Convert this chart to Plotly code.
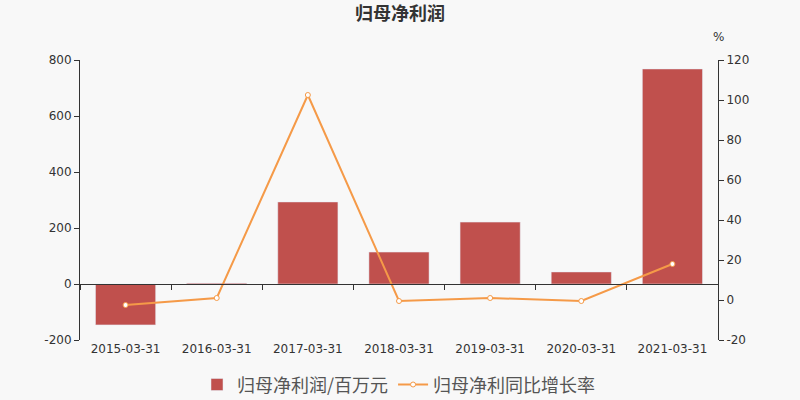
import plotly.graph_objects as go

categories = ["2015-03-31", "2016-03-31", "2017-03-31", "2018-03-31", "2019-03-31", "2020-03-31", "2021-03-31"]
profit = [-146, 3, 293, 114, 221, 43, 768]
growth = [-2.5, 1.0, 102.5, -0.5, 1.0, -0.5, 18.0]
left_ticks = [-200, 0, 200, 400, 600, 800]
left_labels = ["-200", "0", "200", "400", "600", "800"]
right_ticks = [-20, 0, 20, 40, 60, 80, 100, 120]
right_labels = ["-20", "0", "20", "40", "60", "80", "100", "120"]

BAR = "#c0504d"
LINE = "#f59a48"
FONT = "DejaVu Sans, Noto Sans CJK SC"
CJK = "Noto Sans CJK SC"

fig = go.Figure()
fig.add_trace(go.Bar(x=categories, y=profit, name="归母净利润/百万元", marker_color=BAR,
                     width=0.66, yaxis="y", xaxis="x"))
fig.add_trace(go.Scatter(x=categories, y=growth, name="归母净利同比增长率", mode="lines+markers",
                         line=dict(color=LINE, width=2),
                         marker=dict(size=5, color="white", line=dict(color=LINE, width=1)),
                         yaxis="y2", xaxis="x"))
# invisible trace to drive the zero-line axis
fig.add_trace(go.Scatter(x=categories, y=[None]*len(categories), xaxis="x2", yaxis="y",
                         showlegend=False, hoverinfo="skip"))

fig.update_layout(
    width=800, height=400,
    paper_bgcolor="#f8f8f8", plot_bgcolor="#f8f8f8",
    margin=dict(l=80, r=82, t=60, b=60, autoexpand=False),
    font=dict(family=FONT, size=12, color="#333"),
    title=dict(text="<b>归母净利润</b>", x=0.5, xanchor="center", y=0.965, yanchor="middle",
               font=dict(size=18, color="#333", family=CJK)),
    showlegend=True,
    legend=dict(orientation="h", x=0.5, xanchor="center", y=-0.16, yanchor="middle",
                font=dict(size=18, color="#555", family=CJK), bgcolor="rgba(0,0,0,0)"),
    bargap=0.35,
    xaxis=dict(type="category", showline=False, ticks="", showgrid=False, zeroline=False,
               tickfont=dict(size=12, color="#333")),
    xaxis2=dict(type="category", overlaying="x", anchor="free", position=0.2, side="bottom",
                showline=True, linecolor="#333", linewidth=1, ticks="outside", tickson="boundaries",
                ticklen=5, tickcolor="#333", showticklabels=False, showgrid=False, zeroline=False,
                matches="x"),
    yaxis=dict(range=[-200, 800], tickvals=left_ticks, ticktext=left_labels, showline=True,
               linecolor="#333", ticks="outside", ticklen=5, tickcolor="#333", showgrid=False,
               zeroline=False, tickfont=dict(size=12, color="#333")),
    yaxis2=dict(range=[-20, 120], tickvals=right_ticks, ticktext=right_labels, overlaying="y",
                side="right", showline=True, linecolor="#333", ticks="outside", ticklen=5,
                tickcolor="#333", showgrid=False, zeroline=False, tickfont=dict(size=12, color="#333")),
    annotations=[dict(text="%", xref="paper", yref="paper", x=1.0, y=1.0, xanchor="center",
                      yanchor="bottom", yshift=14, showarrow=False,
                      font=dict(size=12, color="#333", family=FONT))],
)

fig.write_html("out.html", config={"displayModeBar": False},
               post_script="document.body.style.margin='0';document.body.style.background='#f8f8f8';")
